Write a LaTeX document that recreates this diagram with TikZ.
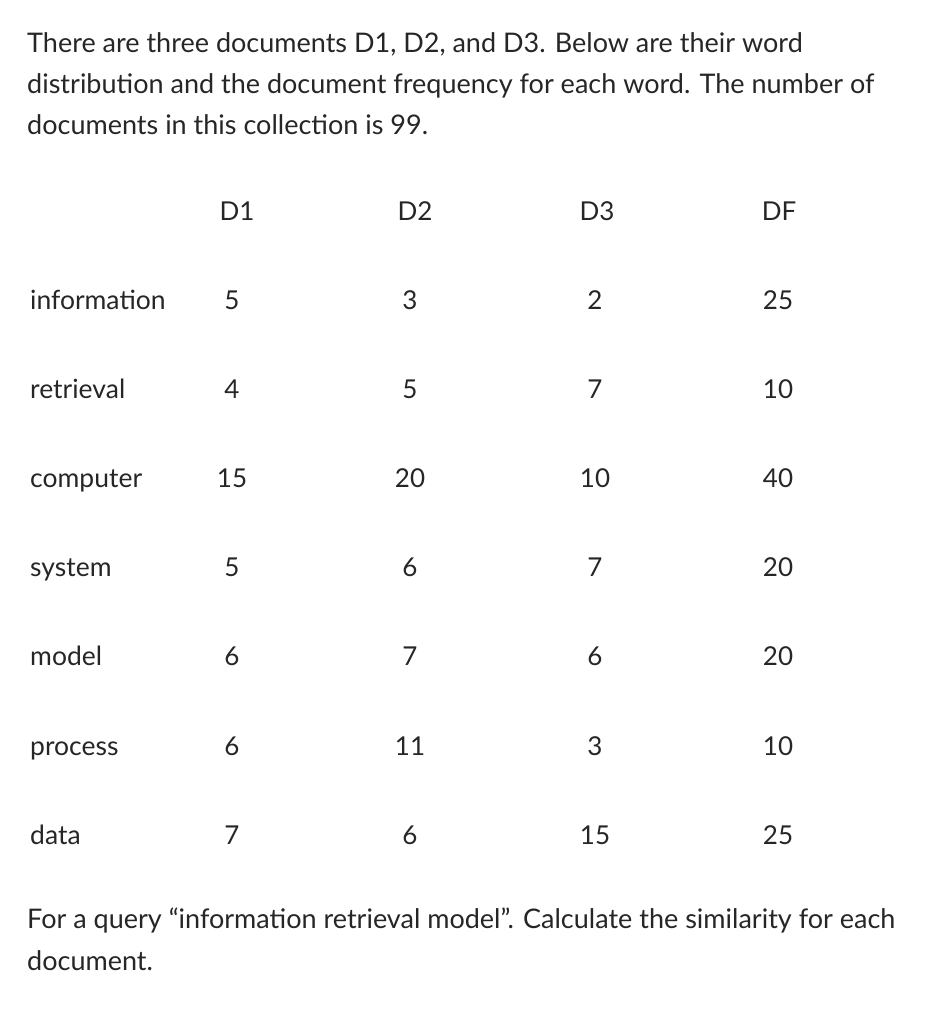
\documentclass[tikz,border=0pt]{standalone}
\usepackage{fontspec}
\setmainfont{Lato}
\begin{document}
\begin{tikzpicture}[x=1pt,y=-1pt,
  para/.style={anchor=base west,inner sep=0pt,font=\fontsize{27}{32}\selectfont,text=black!85},
  cell/.style={anchor=base,inner sep=0pt,font=\fontsize{26}{30}\selectfont,text=black!85},
  lab/.style={anchor=base west,inner sep=0pt,font=\fontsize{26.5}{30}\selectfont,text=black!85}]
\useasboundingbox (0,0) rectangle (942,1024);
\node[para] (p1) at (27,53) {There are three documents D1, D2, and D3. Below are their word};
\node[para] (p2) at (27,94) {distribution and the document frequency for each word. The number of};
\node[para] (p3) at (27,135) {documents in this collection is 99.};
\node[cell] (h1) at (237,221) {D1};
\node[cell] (h2) at (415,221) {D2};
\node[cell] (h3) at (597,221) {D3};
\node[cell] (h4) at (779,221) {DF};
\foreach \w/\a/\b/\c/\d [count=\i] in {information/5/3/2/25,retrieval/4/5/7/10,computer/15/20/10/40,system/5/6/7/20,model/6/7/6/20,process/6/11/3/10,data/7/6/15/25}{
  \pgfmathsetmacro{\yy}{309+89.2*(\i-1)}
  \node[lab] (w\i) at (30,\yy) {\w};
  \node[cell] (a\i) at (232,\yy) {\a};
  \node[cell] (b\i) at (410,\yy) {\b};
  \node[cell] (c\i) at (595,\yy) {\c};
  \node[cell] (d\i) at (778,\yy) {\d};
}
\node[para] (q1) at (27,928) {For a query “information retrieval model”. Calculate the similarity for each};
\node[para] (q2) at (27,970) {document.};
\end{tikzpicture}
\end{document}
